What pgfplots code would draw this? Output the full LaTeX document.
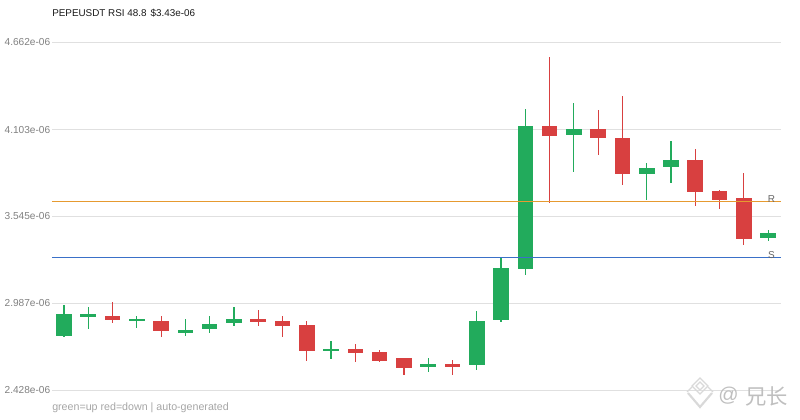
\documentclass[border=0pt]{standalone}
\usepackage{pgfplots}
\usepackage{pgfplotstable}
\usepackage{fontspec}
\pgfplotsset{compat=1.18}
\setmainfont{Liberation Sans}
\newfontfamily\cjk{Noto Sans CJK SC}
\definecolor{upc}{HTML}{22AB5C}
\definecolor{downc}{HTML}{D84040}
\definecolor{gridc}{HTML}{E0E0E0}
\definecolor{resc}{HTML}{E69A30}
\definecolor{supc}{HTML}{3A70C8}
\pgfplotstableread{
x o c h l
0 2.778 2.919 2.977 2.771
1 2.900 2.919 2.964 2.823
3 2.874 2.887 2.906 2.829
5 2.797 2.816 2.887 2.778
6 2.823 2.855 2.906 2.797
7 2.861 2.887 2.964 2.842
11 2.682 2.694 2.746 2.630
15 2.579 2.598 2.637 2.547
17 2.592 2.874 2.938 2.560
18 2.881 3.214 3.285 2.868
19 3.208 4.126 4.235 3.169
21 4.068 4.107 4.274 3.831
24 3.818 3.856 3.888 3.651
25 3.863 3.908 4.030 3.760
29 3.407 3.439 3.458 3.388
}\upcandles
\pgfplotstableread{
x o c h l
2 2.906 2.881 2.996 2.861
4 2.874 2.810 2.906 2.771
8 2.887 2.868 2.945 2.842
9 2.874 2.842 2.906 2.771
10 2.848 2.682 2.874 2.617
12 2.694 2.669 2.726 2.611
13 2.675 2.617 2.688 2.611
14 2.637 2.572 2.637 2.527
16 2.598 2.579 2.624 2.527
20 4.126 4.062 4.569 3.632
22 4.107 4.049 4.229 3.940
23 4.049 3.818 4.319 3.747
26 3.908 3.702 3.978 3.612
27 3.709 3.651 3.715 3.593
28 3.664 3.400 3.824 3.362
}\downcandles
\pgfplotsset{
  wick/.style={draw=none, mark=none, forget plot, error bars/.cd, y dir=both, y explicit,
    error mark=none, error bar style={draw=#1, solid, line width=0.9pt}},
  body/.style={draw=none, mark=none, forget plot, error bars/.cd, y dir=both, y explicit,
    error mark=none, error bar style={draw=#1, solid, line width=11.7pt}},
}
\begin{document}
\begin{tikzpicture}
\path[use as bounding box] (0,0) rectangle (600pt,-315pt);
\begin{axis}[
  at={(39pt,-292.875pt)}, anchor=south west,
  scale only axis, width=546.75pt, height=261pt,
  xmin=-0.494, xmax=29.53, ymin=2.428, ymax=4.662,
  axis line style={draw=none},
  xtick=\empty,
  ytick={2.428,2.987,3.545,4.103,4.662},
  yticklabels={2.428e-06,2.987e-06,3.545e-06,4.103e-06,4.662e-06},
  ymajorgrids, grid style={gridc,line width=0.75pt},
  major tick length=0pt,
  yticklabel style={font=\fontsize{7.6pt}{9pt}\selectfont, text=black!50, anchor=east, xshift=-0.6pt, inner sep=0.5pt},
  clip=false,
]
\addplot[wick=upc] table[x=x, y expr=(\thisrow{h}+\thisrow{l})/2, y error expr=(\thisrow{h}-\thisrow{l})/2] {\upcandles};
\addplot[body=upc] table[x=x, y expr=(\thisrow{o}+\thisrow{c})/2, y error expr=(\thisrow{c}-\thisrow{o})/2] {\upcandles};
\addplot[wick=downc] table[x=x, y expr=(\thisrow{h}+\thisrow{l})/2, y error expr=(\thisrow{h}-\thisrow{l})/2] {\downcandles};
\addplot[body=downc] table[x=x, y expr=(\thisrow{o}+\thisrow{c})/2, y error expr=(\thisrow{o}-\thisrow{c})/2] {\downcandles};
\addplot[resc, line width=0.75pt, forget plot] coordinates {(-0.494,3.641) (29.53,3.641)};
\addplot[supc, line width=0.75pt, forget plot] coordinates {(-0.494,3.283) (29.53,3.283)};
\end{axis}
\begin{scope}[x=0.75pt,y=-0.75pt]
\node[anchor=base west, inner sep=0, font=\fontsize{7.4pt}{9pt}\selectfont, text=black!90] at (52,17) {PEPEUSDT RSI 48.8\hspace{1pt} \$3.43e-06};
\node[anchor=base west, inner sep=0, font=\fontsize{8pt}{9pt}\selectfont, text=black!35] at (52,410) {green=up red=down | auto-generated};
\node[anchor=base, inner sep=0, font=\fontsize{7.5pt}{9pt}\selectfont, text=black!60] at (771.5,203) {R};
\node[anchor=base, inner sep=0, font=\fontsize{7.5pt}{9pt}\selectfont, text=black!60] at (771.5,259) {S};
% watermark
\begin{scope}[draw=black!15, line width=0.9pt]
\draw (700,378) -- (708,386) -- (700,394) -- (692,386) -- cycle;
\draw (700,382) -- (704,386) -- (700,390) -- (696,386) -- cycle;
\draw (687,392) -- (692,387) (713,392) -- (708,387);
\draw[line width=1.6pt] (688,393) -- (700,407) -- (712,393);
\end{scope}
\node[anchor=base west, inner sep=0, font=\fontsize{15pt}{16pt}\selectfont, text=black!25] at (718,402) {@};
\node[anchor=base west, inner sep=0, font=\cjk\fontsize{16pt}{17pt}\selectfont, text=black!25] at (745,404) {兄长};
\end{scope}
\end{tikzpicture}
\end{document}
